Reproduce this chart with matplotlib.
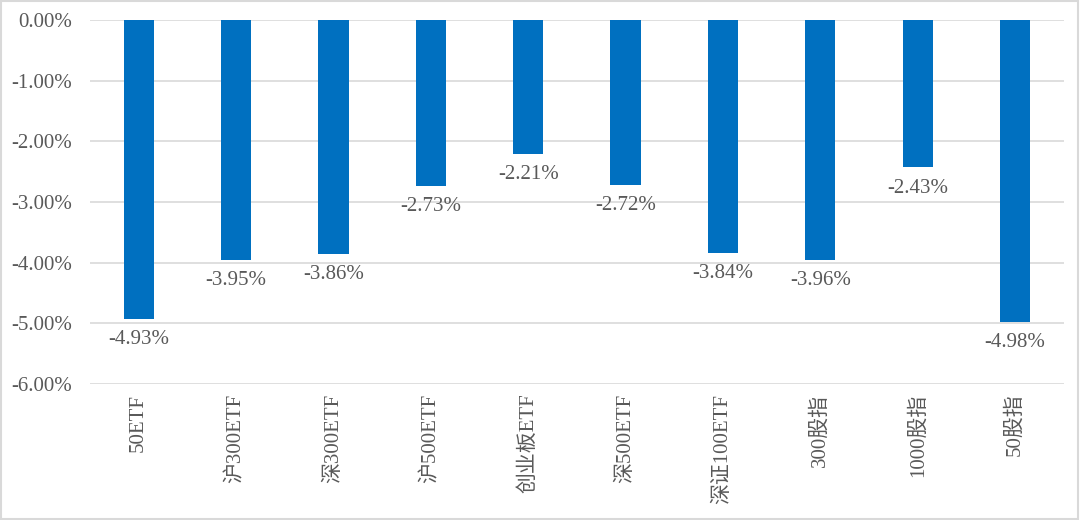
import matplotlib.pyplot as plt
from matplotlib.patches import Rectangle
from matplotlib.ticker import FuncFormatter

categories = ['50ETF', '沪300ETF', '深300ETF', '沪500ETF', '创业板ETF',
              '深500ETF', '深证100ETF', '300股指', '1000股指', '50股指']
values = [-4.93, -3.95, -3.86, -2.73, -2.21, -2.72, -3.84, -3.96, -2.43, -4.98]

fonts = ['Liberation Serif', 'Noto Sans CJK SC']
grey = '#595959'

fig = plt.figure(figsize=(10.8, 5.2), dpi=100)
ax = fig.add_axes([0.0833, 0.2615, 0.9017, 0.7])

x = range(len(categories))
ax.bar(x, values, width=0.31, color='#0070C0', zorder=3)

for i, v in enumerate(values):
    ax.annotate(f'{v:.2f}%', (i, v), xytext=(0, -8), textcoords='offset points',
                ha='center', va='top', fontsize=15, color=grey, family=fonts)

ax.set_xlim(-0.5, len(categories) - 0.5)
ax.set_ylim(-6, 0)
ax.set_yticks([0, -1, -2, -3, -4, -5, -6])
ax.yaxis.set_major_formatter(FuncFormatter(lambda v, p: f'{v:.2f}%'))
ax.set_xticks(list(x))
ax.set_xticklabels(categories, rotation=90, va='top', ha='center')
for lab in ax.get_xticklabels() + ax.get_yticklabels():
    lab.set_family(fonts)
    lab.set_fontsize(15)
    lab.set_color(grey)
ax.tick_params(axis='both', length=0)
ax.tick_params(axis='y', pad=13)
ax.tick_params(axis='x', pad=7)
ax.grid(axis='y', color='#D9D9D9', linewidth=1.2, zorder=0)
for s in ax.spines.values():
    s.set_visible(False)

fig.patches.append(Rectangle((0.001, 0.002), 0.997, 0.996, transform=fig.transFigure,
                             fill=False, edgecolor='#D9D9D9', linewidth=1.5))

fig.savefig('out.png', dpi=100)
